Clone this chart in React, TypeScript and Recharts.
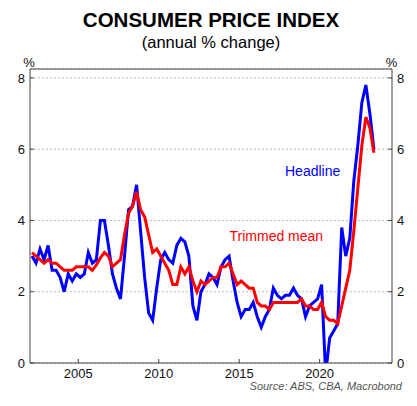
import React from 'react';
import { LineChart, Line, XAxis, YAxis, CartesianGrid, ReferenceLine, ReferenceDot } from 'recharts';

const quarters: string[] = [
  '2002Q1','2002Q2','2002Q3','2002Q4',
  '2003Q1','2003Q2','2003Q3','2003Q4',
  '2004Q1','2004Q2','2004Q3','2004Q4',
  '2005Q1','2005Q2','2005Q3','2005Q4',
  '2006Q1','2006Q2','2006Q3','2006Q4',
  '2007Q1','2007Q2','2007Q3','2007Q4',
  '2008Q1','2008Q2','2008Q3','2008Q4',
  '2009Q1','2009Q2','2009Q3','2009Q4',
  '2010Q1','2010Q2','2010Q3','2010Q4',
  '2011Q1','2011Q2','2011Q3','2011Q4',
  '2012Q1','2012Q2','2012Q3','2012Q4',
  '2013Q1','2013Q2','2013Q3','2013Q4',
  '2014Q1','2014Q2','2014Q3','2014Q4',
  '2015Q1','2015Q2','2015Q3','2015Q4',
  '2016Q1','2016Q2','2016Q3','2016Q4',
  '2017Q1','2017Q2','2017Q3','2017Q4',
  '2018Q1','2018Q2','2018Q3','2018Q4',
  '2019Q1','2019Q2','2019Q3','2019Q4',
  '2020Q1','2020Q2','2020Q3','2020Q4',
  '2021Q1','2021Q2','2021Q3','2021Q4',
  '2022Q1','2022Q2','2022Q3','2022Q4',
  '2023Q1','2023Q2',
];

const headline: number[] = [
  3.0, 2.8, 3.2, 2.9,
  3.3, 2.6, 2.6, 2.4,
  2.0, 2.5, 2.3, 2.5,
  2.4, 2.5, 3.1, 2.8,
  2.9, 4.0, 4.0, 3.3,
  2.5, 2.1, 1.8, 3.0,
  4.3, 4.4, 5.0, 3.7,
  2.4, 1.4, 1.2, 2.1,
  2.9, 3.1, 2.9, 2.8,
  3.3, 3.5, 3.4, 3.0,
  1.6, 1.2, 2.0, 2.2,
  2.5, 2.4, 2.2, 2.7,
  2.9, 3.0, 2.3, 1.7,
  1.3, 1.5, 1.5, 1.7,
  1.3, 1.0, 1.3, 1.5,
  2.1, 1.9, 1.8, 1.9,
  1.9, 2.1, 1.9, 1.8,
  1.3, 1.6, 1.7, 1.8,
  2.2, -0.3, 0.7, 0.9,
  1.1, 3.8, 3.0, 3.5,
  5.1, 6.1, 7.3, 7.8,
  7.0, 6.0,
];

const trimmedMean: number[] = [
  3.1, 3.0, 2.9, 2.8,
  2.9, 2.8, 2.8, 2.7,
  2.6, 2.6, 2.6, 2.7,
  2.7, 2.7, 2.7, 2.6,
  2.75, 2.95, 3.1, 3.0,
  2.7, 2.8, 2.9, 3.6,
  4.2, 4.4, 4.8, 4.3,
  4.1, 3.6, 3.1, 3.2,
  3.0, 2.8, 2.6, 2.2,
  2.2, 2.7, 2.5, 2.7,
  2.3, 2.0, 2.3, 2.2,
  2.3, 2.4, 2.4, 2.7,
  2.7, 2.8, 2.5, 2.2,
  2.3, 2.2, 2.1, 2.1,
  1.7, 1.6, 1.6, 1.5,
  1.7, 1.7, 1.7, 1.7,
  1.7, 1.7, 1.7, 1.8,
  1.6, 1.6, 1.5, 1.5,
  1.7, 1.3, 1.2, 1.2,
  1.1, 1.6, 2.1, 2.6,
  3.7, 4.9, 6.1, 6.9,
  6.6, 5.9,
];

const yearTicks: number[] = [2005, 2010, 2015, 2020];
const valueTicks: number[] = [0, 2, 4, 6, 8];
const xDomain: [number, number] = [2002, 2024.5];
const yDomain: [number, number] = [0, 8.25];

const FONT = '"Liberation Sans", Arial, Helvetica, sans-serif';
const AXIS_COLOR = '#444';
const BLUE = '#0000ff';
const RED = '#ff0000';

// mid-quarter position on a continuous year axis
const quarterToYear = (q: string): number => {
  const year = parseInt(q.slice(0, 4), 10);
  const n = parseInt(q.slice(5), 10);
  return year + (n - 1) * 0.25 + 0.125;
};

const data = quarters.map((q, i) => ({
  t: quarterToYear(q),
  headline: headline[i],
  trimmed: trimmedMean[i],
}));

const XTick = (props: any) => {
  const { x, y, payload } = props;
  return (
    <g>
      <line x1={x} x2={x} y1={y - 6} y2={y - 10} stroke={AXIS_COLOR} strokeWidth={1} />
      <text x={x} y={y} dy="0.71em" textAnchor="middle" fontSize={13} fill="#111" fontFamily={FONT}>
        {payload.value}
      </text>
    </g>
  );
};

const LeftTick = (props: any) => {
  const { x, y, payload } = props;
  return (
    <g>
      <line x1={x + 5} x2={x + 9} y1={y} y2={y} stroke={AXIS_COLOR} strokeWidth={1} />
      <text x={x} y={y} dy="0.355em" textAnchor="end" fontSize={13} fill="#111" fontFamily={FONT}>
        {payload.value}
      </text>
    </g>
  );
};

const RightTick = (props: any) => {
  const { x, y, payload } = props;
  return (
    <g>
      <line x1={x - 5} x2={x - 9} y1={y} y2={y} stroke={AXIS_COLOR} strokeWidth={1} />
      <text x={x} y={y} dy="0.355em" textAnchor="start" fontSize={13} fill="#111" fontFamily={FONT}>
        {payload.value}
      </text>
    </g>
  );
};

const annotation = (text: string, color: string) => (props: any) => {
  const vb = props.viewBox || {};
  return (
    <text x={vb.x} y={vb.y} textAnchor="start" fontSize={14} fill={color} fontFamily={FONT}>
      {text}
    </text>
  );
};

export default function App() {
  return (
    <div style={{ position: 'absolute', left: 0, top: 0, width: 417, height: 406, background: '#fff', fontFamily: FONT }}>
      <LineChart
        width={417}
        height={406}
        data={data}
        margin={{ top: 69, right: 0, bottom: 13, left: 0 }}
      >
        <CartesianGrid
          yAxisId="left"
          horizontal
          vertical={false}
          stroke="#bbb"
          strokeDasharray="2 2"
        />
        <XAxis
          dataKey="t"
          type="number"
          domain={xDomain}
          ticks={yearTicks}
          allowDataOverflow
          height={30}
          axisLine={{ stroke: AXIS_COLOR, strokeWidth: 1 }}
          tickLine={false}
          tickSize={0}
          tickMargin={6}
          tick={<XTick />}
          interval={0}
        />
        <YAxis
          yAxisId="left"
          orientation="left"
          width={30}
          domain={yDomain}
          ticks={valueTicks}
          allowDataOverflow
          axisLine={{ stroke: AXIS_COLOR, strokeWidth: 1 }}
          tickLine={false}
          tickSize={0}
          tickMargin={5}
          tick={<LeftTick />}
          interval={0}
        />
        <YAxis
          yAxisId="right"
          orientation="right"
          width={25}
          domain={yDomain}
          ticks={valueTicks}
          allowDataOverflow
          axisLine={{ stroke: AXIS_COLOR, strokeWidth: 1 }}
          tickLine={false}
          tickSize={0}
          tickMargin={5}
          tick={<RightTick />}
          interval={0}
        />
        <ReferenceLine yAxisId="left" y={yDomain[1]} stroke={AXIS_COLOR} strokeWidth={1} ifOverflow="visible" />
        <Line
          yAxisId="left"
          type="linear"
          dataKey="headline"
          stroke={BLUE}
          strokeWidth={3}
          dot={false}
          activeDot={false}
          isAnimationActive={false}
        />
        <Line
          yAxisId="left"
          type="linear"
          dataKey="trimmed"
          stroke={RED}
          strokeWidth={3}
          dot={false}
          activeDot={false}
          isAnimationActive={false}
        />
        <ReferenceDot
          yAxisId="left"
          x={2017.85}
          y={5.26}
          r={0}
          fill="none"
          stroke="none"
          ifOverflow="visible"
          label={annotation('Headline', BLUE)}
        />
        <ReferenceDot
          yAxisId="left"
          x={2014.4}
          y={3.42}
          r={0}
          fill="none"
          stroke="none"
          ifOverflow="visible"
          label={annotation('Trimmed mean', RED)}
        />
      </LineChart>
      <svg
        width={417}
        height={406}
        style={{ position: 'absolute', left: 0, top: 0, pointerEvents: 'none' }}
      >
        <text x={211} y={27} textAnchor="middle" fontSize={20.5} fontWeight="bold" fill="#000" fontFamily={FONT}>
          CONSUMER PRICE INDEX
        </text>
        <text x={211} y={48} textAnchor="middle" fontSize={16.5} fill="#000" fontFamily={FONT}>
          (annual % change)
        </text>
        <text x={29} y={66.5} textAnchor="middle" fontSize={13} fill="#111" fontFamily={FONT}>
          %
        </text>
        <text x={391.5} y={66.5} textAnchor="middle" fontSize={13} fill="#111" fontFamily={FONT}>
          %
        </text>
        <text x={402} y={390.3} textAnchor="end" fontSize={11} fontStyle="italic" fill="#555" fontFamily={FONT}>
          Source: ABS, CBA, Macrobond
        </text>
      </svg>
    </div>
  );
}
